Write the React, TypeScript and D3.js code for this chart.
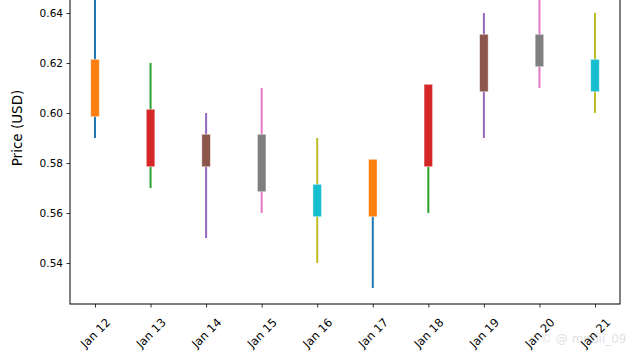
import { useEffect, useRef } from "react";
import * as d3 from "d3";

const days = ["Jan 12", "Jan 13", "Jan 14", "Jan 15", "Jan 16", "Jan 17", "Jan 18", "Jan 19", "Jan 20", "Jan 21"];
const lows = [0.59, 0.57, 0.55, 0.56, 0.54, 0.53, 0.56, 0.59, 0.61, 0.6];
const highs = [0.66, 0.62, 0.6, 0.61, 0.59, 0.58, 0.61, 0.64, 0.65, 0.64];
const opens = [0.5985, 0.6015, 0.5915, 0.5915, 0.5715, 0.5585, 0.5785, 0.6085, 0.6315, 0.6215];
const closes = [0.6215, 0.5785, 0.5785, 0.5685, 0.5585, 0.5815, 0.6115, 0.6315, 0.6185, 0.6085];
const yTicks = [0.54, 0.56, 0.58, 0.6, 0.62, 0.64];

const W = 630;
const H = 354;

export default function App() {
  const ref = useRef<SVGSVGElement>(null);

  useEffect(() => {
    document.body.style.margin = "0";
    const svg = d3.select(ref.current);
    svg.selectAll("*").remove();

    const margin = { top: -48, right: 10, bottom: 50, left: 70 };
    const x = d3
      .scalePoint<string>()
      .domain(days)
      .range([margin.left, W - margin.right])
      .padding(0.45);
    const y = d3.scaleLinear().domain([0.5236, 0.6644]).range([H - margin.bottom, margin.top]);
    const tab10 = d3.schemeCategory10;

    const data = days.map((d, i) => ({ d, i, lo: lows[i], hi: highs[i], o: opens[i], c: closes[i] }));

    // wicks
    svg
      .append("g")
      .selectAll("line")
      .data(data)
      .enter()
      .append("line")
      .attr("x1", (d) => x(d.d)!)
      .attr("x2", (d) => x(d.d)!)
      .attr("y1", (d) => y(d.lo))
      .attr("y2", (d) => y(d.hi))
      .attr("stroke", (d) => tab10[(2 * d.i) % 10])
      .attr("stroke-width", 2);

    // bodies
    const bw = 8.6;
    svg
      .append("g")
      .selectAll("rect")
      .data(data)
      .enter()
      .append("rect")
      .attr("x", (d) => x(d.d)! - bw / 2)
      .attr("width", bw)
      .attr("y", (d) => y(Math.max(d.o, d.c)))
      .attr("height", (d) => Math.abs(y(d.o) - y(d.c)))
      .attr("fill", (d) => tab10[(2 * d.i + 1) % 10])
      .attr("stroke", "rgba(255,255,255,0.6)")
      .attr("stroke-width", 0.8);

    // axes
    const yAxis = svg
      .append("g")
      .attr("transform", `translate(${margin.left},0)`)
      .call(d3.axisLeft(y).tickValues(yTicks).tickFormat(d3.format(".2f")).tickSizeOuter(0).tickSize(3.5).tickPadding(3.5));
    yAxis.select(".domain").remove();
    yAxis.selectAll("text").attr("font-size", 10.5);

    const xAxis = svg
      .append("g")
      .attr("transform", `translate(0,${H - margin.bottom})`)
      .call(d3.axisBottom(x).tickSizeOuter(0).tickSize(3.5));
    xAxis.select(".domain").remove();
    xAxis
      .selectAll("text")
      .attr("y", 0)
      .attr("dy", 0)
      .attr("transform", "translate(0,29) rotate(-45)")
      .attr("dominant-baseline", "central")
      .attr("font-size", 11.5)
      .style("text-anchor", "middle");

    svg.selectAll(".tick text").attr("font-family", "DejaVu Sans").attr("fill", "#000");
    svg.selectAll(".tick line").attr("stroke", "#000").attr("stroke-width", 0.8);

    // spines
    const spine = svg.append("g").attr("stroke", "#000").attr("stroke-width", 1).attr("fill", "none");
    spine
      .append("rect")
      .attr("x", margin.left)
      .attr("y", margin.top)
      .attr("width", W - margin.right - margin.left)
      .attr("height", H - margin.bottom - margin.top);

    // y label
    svg
      .append("text")
      .attr("transform", `translate(17,${(H - margin.bottom + margin.top) / 2}) rotate(-90)`)
      .attr("text-anchor", "middle")
      .attr("dominant-baseline", "central")
      .attr("font-family", "DejaVu Sans")
      .attr("font-size", 13.5)
      .text("Price (USD)");

    // watermark
    svg
      .append("text")
      .attr("x", 540)
      .attr("y", 343)
      .attr("font-family", "DejaVu Sans")
      .attr("font-size", 12)
      .attr("fill", "#000")
      .attr("opacity", 0.12)
      .text("© @ mndii_09");
  }, []);

  return <svg ref={ref} width={W} height={H} style={{ display: "block", overflow: "hidden", background: "#fff" }} />;
}
